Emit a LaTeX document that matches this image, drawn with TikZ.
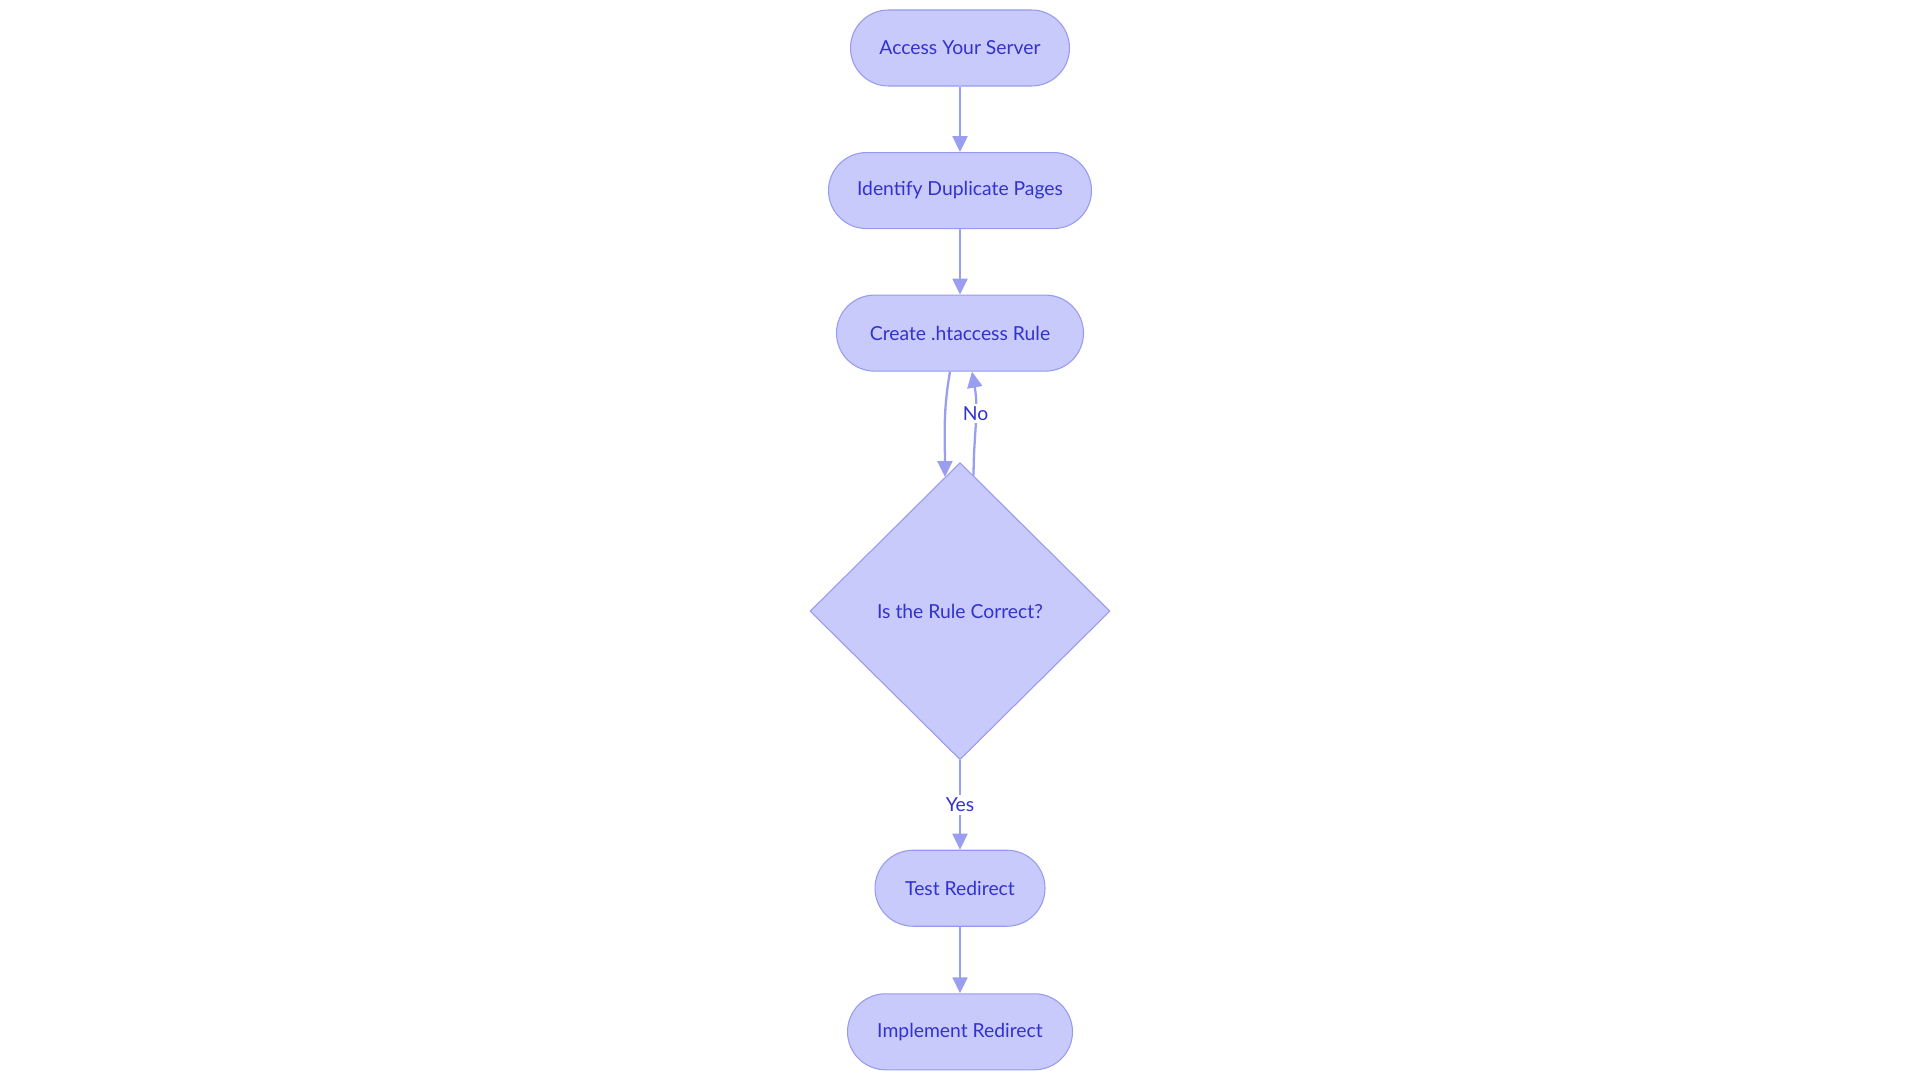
\documentclass[tikz,border=0pt]{standalone}
\usepackage{fontspec}
\setmainfont{Lato}
\usepackage{tikz}
\usetikzlibrary{shapes.geometric, arrows.meta, positioning, calc}
\definecolor{stepfill}{RGB}{200, 202, 252}
\definecolor{stepborder}{RGB}{150, 154, 240}
\definecolor{steptext}{RGB}{50, 50, 205}
\definecolor{flowline}{RGB}{154, 158, 240}

\begin{document}
\begin{tikzpicture}[
    node distance=1.31cm,
    stadium/.style={rectangle, draw=stepborder, fill=stepfill, line width=0.6pt, rounded corners=0.76cm, align=center, minimum height=1.52cm, text=steptext, font=\fontsize{11}{13}\selectfont},
    decision/.style={diamond, draw=stepborder, fill=stepfill, line width=0.6pt, align=center, minimum width=6cm, minimum height=5.94cm, text=steptext, font=\fontsize{11}{13}\selectfont},
    arrow/.style={-{Triangle[length=0.32cm, width=0.3cm]}, line width=1.3pt, draw=flowline},
    edgelabel/.style={fill=white, text=steptext, inner sep=1.5pt, font=\fontsize{11}{13}\selectfont}
]
    \useasboundingbox (0,0) rectangle (38.4,-21.66);

    \node[stadium, minimum width=4.38cm] (access) at (19.2,-0.96) {Access Your Server};
    \node[stadium, minimum width=5.26cm, below=of access] (dupes) {Identify Duplicate Pages};
    \node[stadium, minimum width=4.94cm, below=of dupes] (rule) {Create .htaccess Rule};

    \node[decision, below=1.81cm of rule] (check) {Is the Rule Correct?};

    \node[stadium, minimum width=3.4cm, below=1.79cm of check] (test) {Test Redirect};
    \node[stadium, minimum width=4.5cm, below=1.33cm of test] (impl) {Implement Redirect};

    \draw[arrow] (access) -- (dupes);
    \draw[arrow] (dupes) -- (rule);
    \draw[arrow] ([xshift=-0.2cm]rule.south) to[out=-100, in=90] ($(check.north)!0.1!(check.west)$);
    \draw[arrow] ($(check.north)!0.09!(check.east)$) to[out=90, in=-80] node[edgelabel, pos=0.6] {No} ([xshift=0.24cm]rule.south);
    \draw[arrow] (check) -- node[edgelabel] {Yes} (test);
    \draw[arrow] (test) -- (impl);
\end{tikzpicture}
\end{document}
